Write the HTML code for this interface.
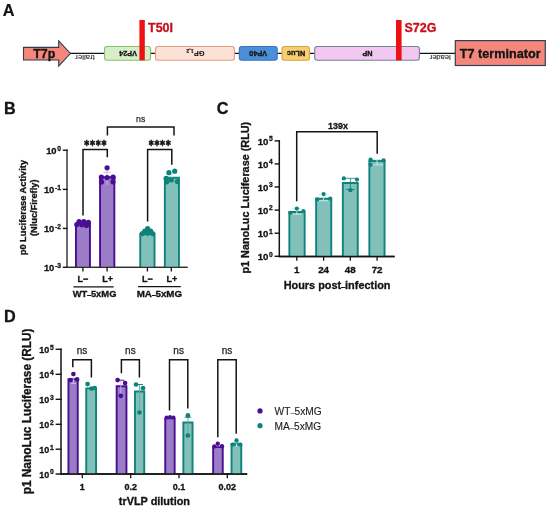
<!DOCTYPE html>
<html><head><meta charset="utf-8"><title>Figure</title>
<style>
html,body{margin:0;padding:0;background:#fff;}
body{width:550px;height:509px;overflow:hidden;}
svg{display:block;font-family:'Liberation Sans', Arial, sans-serif;}
</style></head>
<body>
<svg width="550" height="509" viewBox="0 0 550 509">
<rect width="550" height="509" fill="#fff"/>
<text x="2.7" y="15.9" font-size="16.3" font-weight="bold" text-anchor="start" fill="#141414" stroke="#141414" stroke-width="0.2" >A</text>
<line x1="66" y1="53.4" x2="456" y2="53.4" stroke="#141414" stroke-width="1.4"/>
<path d="M23.5,47.4 L58.7,47.4 L58.7,40.9 L70.4,53.5 L58.7,66.1 L58.7,60.0 L23.5,60.0 Z" stroke="#2d3e50" stroke-width="1.1" fill="#f4877c" />
<text x="44.3" y="57.6" font-size="12.4" font-weight="bold" text-anchor="middle" fill="#141414" stroke="#141414" stroke-width="0.32" >T7p</text>
<text transform="translate(85.0,55.0) rotate(180)" font-size="6.6" font-weight="normal" text-anchor="middle" fill="#333" stroke="#333" stroke-width="0.12" textLength="19.6" lengthAdjust="spacingAndGlyphs">trailer</text>
<text transform="translate(440.2,55.4) rotate(180)" font-size="6.6" font-weight="normal" text-anchor="middle" fill="#333" stroke="#333" stroke-width="0.15" textLength="21.2" lengthAdjust="spacingAndGlyphs">leader</text>
<rect x="104.5" y="46.5" width="46.0" height="13.7" rx="2.5" fill="#d6efca" stroke="#86c070" stroke-width="1.1"/>
<rect x="155.5" y="46.5" width="78.9" height="13.7" rx="2.5" fill="#fce1d6" stroke="#e69a7c" stroke-width="1.1"/>
<rect x="239.3" y="46.5" width="37.9" height="13.7" rx="2.5" fill="#4b8fd8" stroke="#3d74b6" stroke-width="1.1"/>
<rect x="282.0" y="46.5" width="27.5" height="13.7" rx="2.5" fill="#f7cf72" stroke="#d2a546" stroke-width="1.1"/>
<rect x="314.7" y="46.5" width="104.7" height="13.7" rx="2.5" fill="#f2c7f0" stroke="#76809a" stroke-width="1.1"/>
<text transform="translate(128.0,50.7) rotate(180)" font-size="7.3" font-weight="bold" text-anchor="middle" fill="#141414" stroke="#141414" stroke-width="0.32" >VP24</text>
<text transform="translate(195.4,51.1) rotate(180) scale(1.15,1)" font-size="6.3" font-weight="bold" text-anchor="middle" fill="#141414" stroke="#141414" stroke-width="0.12">GP<tspan font-size="4.6" dy="1.6" dx="0.2">1,2</tspan></text>
<text transform="translate(258.2,50.7) rotate(180)" font-size="7.3" font-weight="bold" text-anchor="middle" fill="#141414" stroke="#141414" stroke-width="0.32" >VP40</text>
<text transform="translate(296.0,50.7) rotate(180)" font-size="7.3" font-weight="bold" text-anchor="middle" fill="#141414" stroke="#141414" stroke-width="0.32" >NLuc</text>
<text transform="translate(367.5,50.9) rotate(180)" font-size="7.3" font-weight="bold" text-anchor="middle" fill="#141414" stroke="#141414" stroke-width="0.32" >NP</text>
<rect x="139.4" y="20" width="5.4" height="40.3" rx="0" fill="#ee1111" stroke="none" stroke-width="0"/>
<rect x="396.0" y="20" width="5.6" height="40.3" rx="0" fill="#ee1111" stroke="none" stroke-width="0"/>
<text x="148.0" y="32.2" font-size="12.5" font-weight="bold" text-anchor="start" fill="#c8101a" stroke="#c8101a" stroke-width="0.32" >T50I</text>
<text x="404.4" y="32.3" font-size="12.5" font-weight="bold" text-anchor="start" fill="#c8101a" stroke="#c8101a" stroke-width="0.32" >S72G</text>
<rect x="455.3" y="40.6" width="90.0" height="24.9" rx="0" fill="#f4877c" stroke="#2f4253" stroke-width="1.2"/>
<text x="500.25" y="57.5" font-size="12.65" font-weight="bold" text-anchor="middle" fill="#141414" stroke="#141414" stroke-width="0.32" >T7 terminator</text>
<text x="4.1" y="114.0" font-size="16.2" font-weight="bold" text-anchor="start" fill="#141414" stroke="#141414" stroke-width="0.3" >B</text>
<line x1="67" y1="149.4" x2="67" y2="268" stroke="#2e2e2e" stroke-width="1.4"/>
<line x1="66.3" y1="267.4" x2="187.6" y2="267.4" stroke="#2e2e2e" stroke-width="1.4"/>
<line x1="62.8" y1="150.2" x2="67.6" y2="150.2" stroke="#141414" stroke-width="1.4"/>
<text x="56.57" y="153.8" font-size="9.4" font-weight="bold" text-anchor="end" fill="#141414" stroke="#141414" stroke-width="0.32" >10</text>
<text x="57.27" y="150.5" font-size="6.7" font-weight="bold" text-anchor="start" fill="#141414" stroke="#141414" stroke-width="0.3" >0</text>
<line x1="62.8" y1="189.4" x2="67.6" y2="189.4" stroke="#141414" stroke-width="1.4"/>
<text x="54.34" y="193.0" font-size="9.4" font-weight="bold" text-anchor="end" fill="#141414" stroke="#141414" stroke-width="0.32" >10</text>
<text x="55.04" y="189.7" font-size="6.7" font-weight="bold" text-anchor="start" fill="#141414" stroke="#141414" stroke-width="0.3" >-1</text>
<line x1="62.8" y1="228.4" x2="67.6" y2="228.4" stroke="#141414" stroke-width="1.4"/>
<text x="54.34" y="232.0" font-size="9.4" font-weight="bold" text-anchor="end" fill="#141414" stroke="#141414" stroke-width="0.32" >10</text>
<text x="55.04" y="228.7" font-size="6.7" font-weight="bold" text-anchor="start" fill="#141414" stroke="#141414" stroke-width="0.3" >-2</text>
<line x1="62.8" y1="267.3" x2="67.6" y2="267.3" stroke="#141414" stroke-width="1.4"/>
<text x="54.34" y="270.9" font-size="9.4" font-weight="bold" text-anchor="end" fill="#141414" stroke="#141414" stroke-width="0.32" >10</text>
<text x="55.04" y="267.6" font-size="6.7" font-weight="bold" text-anchor="start" fill="#141414" stroke="#141414" stroke-width="0.3" >-3</text>
<path d="M75.95,267.3 L75.95,223.75 L89.95,223.75 L89.95,267.3" fill="#9a7dc6" stroke="#4a0e92" stroke-width="1.9"/>
<path d="M100.05,267.3 L100.05,177.25 L114.35,177.25 L114.35,267.3" fill="#9a7dc6" stroke="#4a0e92" stroke-width="1.9"/>
<path d="M140.25,267.3 L140.25,233.95 L154.55,233.95 L154.55,267.3" fill="#82c0ba" stroke="#0f827b" stroke-width="1.9"/>
<path d="M164.85,267.3 L164.85,177.75 L178.95,177.75 L178.95,267.3" fill="#82c0ba" stroke="#0f827b" stroke-width="1.9"/>
<line x1="66.3" y1="267.4" x2="187.6" y2="267.4" stroke="#2e2e2e" stroke-width="1.4"/>
<circle cx="79.1" cy="221.5" r="2.6" fill="#4a0e92"/>
<circle cx="83.8" cy="221.5" r="2.6" fill="#4a0e92"/>
<circle cx="88.4" cy="222.3" r="2.6" fill="#4a0e92"/>
<circle cx="76.8" cy="224.6" r="2.6" fill="#4a0e92"/>
<circle cx="81.8" cy="224.7" r="2.6" fill="#4a0e92"/>
<circle cx="86.5" cy="225.4" r="2.6" fill="#4a0e92"/>
<line x1="107.1" y1="171.5" x2="107.1" y2="185" stroke="#c4b4e2" stroke-width="1.0"/>
<line x1="103.5" y1="172.2" x2="110.7" y2="172.2" stroke="#c4b4e2" stroke-width="1.0"/>
<circle cx="107.1" cy="167.8" r="2.6" fill="#4a0e92"/>
<circle cx="101.4" cy="177.2" r="2.6" fill="#4a0e92"/>
<circle cx="107.1" cy="177.6" r="2.6" fill="#4a0e92"/>
<circle cx="113.1" cy="177.2" r="2.6" fill="#4a0e92"/>
<circle cx="101.5" cy="182" r="2.6" fill="#4a0e92"/>
<circle cx="113" cy="181.8" r="2.6" fill="#4a0e92"/>
<circle cx="147.6" cy="228.6" r="2.6" fill="#0f827b"/>
<circle cx="144.8" cy="231.0" r="2.6" fill="#0f827b"/>
<circle cx="150.6" cy="231.0" r="2.6" fill="#0f827b"/>
<circle cx="142.4" cy="233.6" r="2.6" fill="#0f827b"/>
<circle cx="147.6" cy="233.2" r="2.6" fill="#0f827b"/>
<circle cx="152.6" cy="233.6" r="2.6" fill="#0f827b"/>
<line x1="171.8" y1="173" x2="171.8" y2="183" stroke="#b8e0dc" stroke-width="1.0"/>
<circle cx="168.9" cy="172.7" r="2.6" fill="#0f827b"/>
<circle cx="174.7" cy="171.2" r="2.6" fill="#0f827b"/>
<circle cx="166.2" cy="178.4" r="2.6" fill="#0f827b"/>
<circle cx="177.4" cy="181.6" r="2.6" fill="#0f827b"/>
<circle cx="171.3" cy="180.0" r="2.6" fill="#0f827b"/>
<circle cx="166.6" cy="181.8" r="2.6" fill="#0f827b"/>
<line x1="82.9" y1="267.3" x2="82.9" y2="271.5" stroke="#141414" stroke-width="1.3"/>
<line x1="107.1" y1="267.3" x2="107.1" y2="271.5" stroke="#141414" stroke-width="1.3"/>
<line x1="147.4" y1="267.3" x2="147.4" y2="271.5" stroke="#141414" stroke-width="1.3"/>
<line x1="171.3" y1="267.3" x2="171.3" y2="271.5" stroke="#141414" stroke-width="1.3"/>
<text x="83.0" y="282.2" font-size="9" font-weight="bold" text-anchor="middle" fill="#141414" stroke="#141414" stroke-width="0.32" >L−</text>
<text x="107.6" y="282.2" font-size="9" font-weight="bold" text-anchor="middle" fill="#141414" stroke="#141414" stroke-width="0.32" >L+</text>
<text x="147.4" y="282.2" font-size="9" font-weight="bold" text-anchor="middle" fill="#141414" stroke="#141414" stroke-width="0.32" >L−</text>
<text x="171.9" y="282.2" font-size="9" font-weight="bold" text-anchor="middle" fill="#141414" stroke="#141414" stroke-width="0.32" >L+</text>
<line x1="73.4" y1="286.8" x2="113.7" y2="286.8" stroke="#141414" stroke-width="1.3"/>
<line x1="138.0" y1="286.7" x2="180.8" y2="286.7" stroke="#141414" stroke-width="1.3"/>
<text x="94.6" y="297.0" font-size="9.4" font-weight="bold" text-anchor="middle" fill="#141414" stroke="#141414" stroke-width="0.32" >WT<tspan font-size="6.4" font-weight="normal" stroke-width="0.35">–</tspan>5xMG</text>
<text x="159.4" y="297.0" font-size="9.75" font-weight="bold" text-anchor="middle" fill="#141414" stroke="#141414" stroke-width="0.32" >MA<tspan font-size="6.4" font-weight="normal" stroke-width="0.35">–</tspan>5xMG</text>
<path d="M83,215.6 L83,149.4 L107.3,149.4 L107.3,157.2" stroke="#141414" stroke-width="1.5" fill="none" />
<path d="M147.6,221.4 L147.6,149.4 L171.8,149.4 L171.8,164.8" stroke="#141414" stroke-width="1.5" fill="none" />
<path d="M107.4,135.6 L107.4,127 L174,127 L174,135.6" stroke="#141414" stroke-width="1.5" fill="none" />
<text transform="matrix(1,0,0,1.3,0,148.87)" x="84.14 89.95 95.76 101.57" y="0" font-family="DejaVu Sans, sans-serif" font-size="9.4" font-weight="bold" fill="#141414" stroke="#141414" stroke-width="0.55">****</text>
<text transform="matrix(1,0,0,1.3,0,148.87)" x="148.74 154.41 160.09 165.77" y="0" font-family="DejaVu Sans, sans-serif" font-size="9.4" font-weight="bold" fill="#141414" stroke="#141414" stroke-width="0.55">****</text>
<text x="140.7" y="121.7" font-size="8.7" font-weight="normal" text-anchor="middle" fill="#2a2a2a" stroke="#2a2a2a" stroke-width="0.25" >ns</text>
<text transform="translate(25.5,207.6) rotate(-90)" font-size="9.26" font-weight="bold" text-anchor="middle" fill="#141414" stroke="#141414" stroke-width="0.32" >p0 Luciferase Activity</text>
<text transform="translate(36.5,207.8) rotate(-90)" font-size="9.25" font-weight="bold" text-anchor="middle" fill="#141414" stroke="#141414" stroke-width="0.32" >(Nluc/Firefly)</text>
<text x="216.8" y="114.0" font-size="16.2" font-weight="bold" text-anchor="start" fill="#141414" stroke="#141414" stroke-width="0.3" >C</text>
<line x1="279.3" y1="140.2" x2="279.3" y2="257" stroke="#141414" stroke-width="1.5"/>
<line x1="278.6" y1="256.4" x2="394.6" y2="256.4" stroke="#141414" stroke-width="1.5"/>
<line x1="274.6" y1="140.9" x2="280" y2="140.9" stroke="#141414" stroke-width="1.4"/>
<text x="268.37" y="144.5" font-size="9.6" font-weight="bold" text-anchor="end" fill="#141414" stroke="#141414" stroke-width="0.32" >10</text>
<text x="269.07" y="141.2" font-size="6.7" font-weight="bold" text-anchor="start" fill="#141414" stroke="#141414" stroke-width="0.3" >5</text>
<line x1="274.6" y1="163.9" x2="280" y2="163.9" stroke="#141414" stroke-width="1.4"/>
<text x="268.37" y="167.5" font-size="9.6" font-weight="bold" text-anchor="end" fill="#141414" stroke="#141414" stroke-width="0.32" >10</text>
<text x="269.07" y="164.2" font-size="6.7" font-weight="bold" text-anchor="start" fill="#141414" stroke="#141414" stroke-width="0.3" >4</text>
<line x1="274.6" y1="187.0" x2="280" y2="187.0" stroke="#141414" stroke-width="1.4"/>
<text x="268.37" y="190.6" font-size="9.6" font-weight="bold" text-anchor="end" fill="#141414" stroke="#141414" stroke-width="0.32" >10</text>
<text x="269.07" y="187.3" font-size="6.7" font-weight="bold" text-anchor="start" fill="#141414" stroke="#141414" stroke-width="0.3" >3</text>
<line x1="274.6" y1="210.1" x2="280" y2="210.1" stroke="#141414" stroke-width="1.4"/>
<text x="268.37" y="213.7" font-size="9.6" font-weight="bold" text-anchor="end" fill="#141414" stroke="#141414" stroke-width="0.32" >10</text>
<text x="269.07" y="210.4" font-size="6.7" font-weight="bold" text-anchor="start" fill="#141414" stroke="#141414" stroke-width="0.3" >2</text>
<line x1="274.6" y1="233.2" x2="280" y2="233.2" stroke="#141414" stroke-width="1.4"/>
<text x="268.37" y="236.8" font-size="9.6" font-weight="bold" text-anchor="end" fill="#141414" stroke="#141414" stroke-width="0.32" >10</text>
<text x="269.07" y="233.5" font-size="6.7" font-weight="bold" text-anchor="start" fill="#141414" stroke="#141414" stroke-width="0.3" >1</text>
<line x1="274.6" y1="256.3" x2="280" y2="256.3" stroke="#141414" stroke-width="1.4"/>
<text x="268.37" y="259.9" font-size="9.6" font-weight="bold" text-anchor="end" fill="#141414" stroke="#141414" stroke-width="0.32" >10</text>
<text x="269.07" y="256.6" font-size="6.7" font-weight="bold" text-anchor="start" fill="#141414" stroke="#141414" stroke-width="0.3" >0</text>
<path d="M289.35,256.4 L289.35,212.05 L304.65,212.05 L304.65,256.4" fill="#82c0ba" stroke="#0f827b" stroke-width="1.9"/>
<path d="M316.15,256.4 L316.15,198.75 L331.25,198.75 L331.25,256.4" fill="#82c0ba" stroke="#0f827b" stroke-width="1.9"/>
<path d="M342.85,256.4 L342.85,182.95 L357.75,182.95 L357.75,256.4" fill="#82c0ba" stroke="#0f827b" stroke-width="1.9"/>
<path d="M369.35,256.4 L369.35,160.95 L384.55,160.95 L384.55,256.4" fill="#82c0ba" stroke="#0f827b" stroke-width="1.9"/>
<line x1="278.6" y1="256.4" x2="394.6" y2="256.4" stroke="#141414" stroke-width="1.5"/>
<line x1="292.5" y1="208.6" x2="301.1" y2="208.6" stroke="#cfe9e6" stroke-width="0.9"/>
<line x1="296.8" y1="208.6" x2="296.8" y2="214.5" stroke="#cfe9e6" stroke-width="0.9"/>
<line x1="292.5" y1="214.2" x2="301.1" y2="214.2" stroke="#cfe9e6" stroke-width="0.9"/>
<circle cx="296.8" cy="208.6" r="2.1" fill="#0f827b"/>
<circle cx="303.4" cy="211.0" r="2.1" fill="#0f827b"/>
<circle cx="290.4" cy="212.8" r="2.1" fill="#0f827b"/>
<line x1="319.0" y1="194.4" x2="328.2" y2="194.4" stroke="#cfe9e6" stroke-width="0.9"/>
<line x1="323.6" y1="194.4" x2="323.6" y2="201" stroke="#cfe9e6" stroke-width="0.9"/>
<line x1="319.0" y1="200.7" x2="328.2" y2="200.7" stroke="#cfe9e6" stroke-width="0.9"/>
<circle cx="323.6" cy="194.1" r="2.1" fill="#0f827b"/>
<circle cx="330.2" cy="198.6" r="2.1" fill="#0f827b"/>
<circle cx="317.2" cy="199.4" r="2.1" fill="#0f827b"/>
<line x1="343.5" y1="178.3" x2="357.3" y2="178.3" stroke="#0f827b" stroke-width="0.8"/>
<line x1="350.4" y1="178.3" x2="350.4" y2="190" stroke="#0f827b" stroke-width="0.8"/>
<line x1="346" y1="189.5" x2="355" y2="189.5" stroke="#0f827b" stroke-width="0.8"/>
<circle cx="343.8" cy="178.4" r="2.1" fill="#0f827b"/>
<circle cx="357.0" cy="179.6" r="2.1" fill="#0f827b"/>
<circle cx="350.4" cy="190.2" r="2.1" fill="#0f827b"/>
<line x1="371" y1="159.6" x2="383" y2="159.6" stroke="#cfe9e6" stroke-width="0.9"/>
<line x1="377" y1="159.6" x2="377" y2="165" stroke="#cfe9e6" stroke-width="0.9"/>
<line x1="371" y1="164.8" x2="383" y2="164.8" stroke="#cfe9e6" stroke-width="0.9"/>
<circle cx="370.6" cy="159.6" r="2.1" fill="#0f827b"/>
<circle cx="383.6" cy="160.3" r="2.1" fill="#0f827b"/>
<circle cx="370.6" cy="164.8" r="2.1" fill="#0f827b"/>
<line x1="296.8" y1="256.4" x2="296.8" y2="260.8" stroke="#141414" stroke-width="1.3"/>
<line x1="323.6" y1="256.4" x2="323.6" y2="260.8" stroke="#141414" stroke-width="1.3"/>
<line x1="350.3" y1="256.4" x2="350.3" y2="260.8" stroke="#141414" stroke-width="1.3"/>
<line x1="377.1" y1="256.4" x2="377.1" y2="260.8" stroke="#141414" stroke-width="1.3"/>
<text x="296.8" y="273.2" font-size="9.8" font-weight="bold" text-anchor="middle" fill="#141414" stroke="#141414" stroke-width="0.32" >1</text>
<text x="323.6" y="273.2" font-size="9.8" font-weight="bold" text-anchor="middle" fill="#141414" stroke="#141414" stroke-width="0.32" >24</text>
<text x="350.3" y="273.2" font-size="9.8" font-weight="bold" text-anchor="middle" fill="#141414" stroke="#141414" stroke-width="0.32" >48</text>
<text x="377.1" y="273.2" font-size="9.8" font-weight="bold" text-anchor="middle" fill="#141414" stroke="#141414" stroke-width="0.32" >72</text>
<text x="337.1" y="288.6" font-size="10.9" font-weight="bold" text-anchor="middle" fill="#141414" stroke="#141414" stroke-width="0.32" >Hours post<tspan font-size="7" font-weight="normal" stroke-width="0.35">–</tspan>infection</text>
<path d="M296.7,201.2 L296.7,131.8 L377.2,131.8 L377.2,153.8" stroke="#141414" stroke-width="1.5" fill="none" />
<text x="338.0" y="129.2" font-size="9" font-weight="bold" text-anchor="middle" fill="#141414" stroke="#141414" stroke-width="0.32" >139x</text>
<text transform="translate(248.6,197.7) rotate(-90)" font-size="10.85" font-weight="bold" text-anchor="middle" fill="#141414" stroke="#141414" stroke-width="0.32" >p1 NanoLuc Luciferase (RLU)</text>
<text x="4.1" y="322.4" font-size="16.2" font-weight="bold" text-anchor="start" fill="#141414" stroke="#141414" stroke-width="0.3" >D</text>
<line x1="61.0" y1="348.6" x2="61.0" y2="474.6" stroke="#141414" stroke-width="1.5"/>
<line x1="60.3" y1="474.0" x2="247.2" y2="474.0" stroke="#141414" stroke-width="1.5"/>
<line x1="55.6" y1="349.3" x2="61.6" y2="349.3" stroke="#141414" stroke-width="1.4"/>
<text x="49.37" y="352.9" font-size="9.0" font-weight="bold" text-anchor="end" fill="#141414" stroke="#141414" stroke-width="0.32" >10</text>
<text x="50.07" y="349.6" font-size="6.7" font-weight="bold" text-anchor="start" fill="#141414" stroke="#141414" stroke-width="0.3" >5</text>
<line x1="55.6" y1="374.3" x2="61.6" y2="374.3" stroke="#141414" stroke-width="1.4"/>
<text x="49.37" y="377.9" font-size="9.0" font-weight="bold" text-anchor="end" fill="#141414" stroke="#141414" stroke-width="0.32" >10</text>
<text x="50.07" y="374.6" font-size="6.7" font-weight="bold" text-anchor="start" fill="#141414" stroke="#141414" stroke-width="0.3" >4</text>
<line x1="55.6" y1="399.3" x2="61.6" y2="399.3" stroke="#141414" stroke-width="1.4"/>
<text x="49.37" y="402.9" font-size="9.0" font-weight="bold" text-anchor="end" fill="#141414" stroke="#141414" stroke-width="0.32" >10</text>
<text x="50.07" y="399.6" font-size="6.7" font-weight="bold" text-anchor="start" fill="#141414" stroke="#141414" stroke-width="0.3" >3</text>
<line x1="55.6" y1="424.3" x2="61.6" y2="424.3" stroke="#141414" stroke-width="1.4"/>
<text x="49.37" y="427.9" font-size="9.0" font-weight="bold" text-anchor="end" fill="#141414" stroke="#141414" stroke-width="0.32" >10</text>
<text x="50.07" y="424.6" font-size="6.7" font-weight="bold" text-anchor="start" fill="#141414" stroke="#141414" stroke-width="0.3" >2</text>
<line x1="55.6" y1="449.2" x2="61.6" y2="449.2" stroke="#141414" stroke-width="1.4"/>
<text x="49.37" y="452.8" font-size="9.0" font-weight="bold" text-anchor="end" fill="#141414" stroke="#141414" stroke-width="0.32" >10</text>
<text x="50.07" y="449.5" font-size="6.7" font-weight="bold" text-anchor="start" fill="#141414" stroke="#141414" stroke-width="0.3" >1</text>
<line x1="55.6" y1="474.0" x2="61.6" y2="474.0" stroke="#141414" stroke-width="1.4"/>
<text x="49.37" y="477.6" font-size="9.0" font-weight="bold" text-anchor="end" fill="#141414" stroke="#141414" stroke-width="0.32" >10</text>
<text x="50.07" y="474.3" font-size="6.7" font-weight="bold" text-anchor="start" fill="#141414" stroke="#141414" stroke-width="0.3" >0</text>
<path d="M68.45,474 L68.45,379.25 L77.75,379.25 L77.75,474" fill="#9a7dc6" stroke="#4a0e92" stroke-width="1.9"/>
<path d="M86.25,474 L86.25,388.35 L96.05,388.35 L96.05,474" fill="#82c0ba" stroke="#0f827b" stroke-width="1.9"/>
<path d="M116.65,474 L116.65,386.25 L126.45,386.25 L126.45,474" fill="#9a7dc6" stroke="#4a0e92" stroke-width="1.9"/>
<path d="M134.95,474 L134.95,391.45 L144.25,391.45 L144.25,474" fill="#82c0ba" stroke="#0f827b" stroke-width="1.9"/>
<path d="M165.25,474 L165.25,418.35 L174.65,418.35 L174.65,474" fill="#9a7dc6" stroke="#4a0e92" stroke-width="1.9"/>
<path d="M183.35,474 L183.35,422.55 L192.55,422.55 L192.55,474" fill="#82c0ba" stroke="#0f827b" stroke-width="1.9"/>
<path d="M213.15,474 L213.15,447.15 L222.75,447.15 L222.75,474" fill="#9a7dc6" stroke="#4a0e92" stroke-width="1.9"/>
<path d="M231.55,474 L231.55,444.55 L241.25,444.55 L241.25,474" fill="#82c0ba" stroke="#0f827b" stroke-width="1.9"/>
<line x1="60.3" y1="474.0" x2="247.2" y2="474.0" stroke="#141414" stroke-width="1.5"/>
<line x1="73.4" y1="376" x2="73.4" y2="384" stroke="#c8b8e6" stroke-width="0.9"/>
<line x1="71" y1="383.5" x2="76" y2="383.5" stroke="#c8b8e6" stroke-width="0.9"/>
<circle cx="73.4" cy="374.0" r="2.35" fill="#4a0e92"/>
<circle cx="77.1" cy="379.4" r="2.35" fill="#4a0e92"/>
<circle cx="70.4" cy="380.0" r="2.35" fill="#4a0e92"/>
<circle cx="87.6" cy="384.1" r="2.35" fill="#0f827b"/>
<circle cx="94.6" cy="388.0" r="2.35" fill="#0f827b"/>
<circle cx="91.4" cy="388.6" r="2.35" fill="#0f827b"/>
<line x1="120.8" y1="380" x2="120.8" y2="394" stroke="#c8b8e6" stroke-width="0.9"/>
<line x1="117.6" y1="380.2" x2="124.5" y2="380.2" stroke="#4a0e92" stroke-width="0.9"/>
<circle cx="117.6" cy="380.1" r="2.35" fill="#4a0e92"/>
<circle cx="125.1" cy="383.1" r="2.35" fill="#4a0e92"/>
<circle cx="120.8" cy="395.8" r="2.35" fill="#4a0e92"/>
<line x1="139.5" y1="384.5" x2="139.5" y2="412" stroke="#5fa9a2" stroke-width="0.9"/>
<line x1="136" y1="384.5" x2="143" y2="384.5" stroke="#0f827b" stroke-width="0.9"/>
<circle cx="136.0" cy="384.5" r="2.35" fill="#0f827b"/>
<circle cx="143.0" cy="388.2" r="2.35" fill="#0f827b"/>
<circle cx="139.5" cy="412.5" r="2.35" fill="#0f827b"/>
<circle cx="166.6" cy="417.6" r="2.0" fill="#4a0e92"/>
<circle cx="170" cy="417.0" r="2.0" fill="#4a0e92"/>
<circle cx="173.4" cy="417.6" r="2.0" fill="#4a0e92"/>
<line x1="187.9" y1="415.5" x2="187.9" y2="435" stroke="#5fa9a2" stroke-width="0.9"/>
<line x1="184.6" y1="417.2" x2="191.2" y2="417.2" stroke="#0f827b" stroke-width="1.0"/>
<circle cx="187.9" cy="415.4" r="2.35" fill="#0f827b"/>
<circle cx="187.9" cy="435.5" r="2.35" fill="#0f827b"/>
<circle cx="214.3" cy="446.4" r="2.2" fill="#4a0e92"/>
<circle cx="217.8" cy="443.7" r="2.2" fill="#4a0e92"/>
<circle cx="222.0" cy="446.3" r="2.2" fill="#4a0e92"/>
<line x1="236.5" y1="440.4" x2="236.5" y2="447" stroke="#cfe9e6" stroke-width="0.9"/>
<line x1="232.5" y1="443.2" x2="240.5" y2="443.2" stroke="#0f827b" stroke-width="1.0"/>
<circle cx="236.5" cy="440.4" r="2.2" fill="#0f827b"/>
<circle cx="232.6" cy="444.6" r="2.2" fill="#0f827b"/>
<circle cx="240.3" cy="444.6" r="2.2" fill="#0f827b"/>
<path d="M72.8,367.2 L72.8,359.8 L91.4,359.8 L91.4,377.4" stroke="#141414" stroke-width="1.5" fill="none" />
<text x="82.1" y="353.6" font-size="10" font-weight="normal" text-anchor="middle" fill="#1e1e1e" stroke="#1e1e1e" stroke-width="0.25" >ns</text>
<path d="M121.4,373.3 L121.4,359.8 L139.4,359.8 L139.4,377.4" stroke="#141414" stroke-width="1.5" fill="none" />
<text x="130.4" y="353.6" font-size="10" font-weight="normal" text-anchor="middle" fill="#1e1e1e" stroke="#1e1e1e" stroke-width="0.25" >ns</text>
<path d="M169.5,410.5 L169.5,359.8 L187.8,359.8 L187.8,408.6" stroke="#141414" stroke-width="1.5" fill="none" />
<text x="178.65" y="353.6" font-size="10" font-weight="normal" text-anchor="middle" fill="#1e1e1e" stroke="#1e1e1e" stroke-width="0.25" >ns</text>
<path d="M217.8,437.3 L217.8,359.8 L236.2,359.8 L236.2,433.7" stroke="#141414" stroke-width="1.5" fill="none" />
<text x="227.0" y="353.6" font-size="10" font-weight="normal" text-anchor="middle" fill="#1e1e1e" stroke="#1e1e1e" stroke-width="0.25" >ns</text>
<line x1="82.3" y1="474" x2="82.3" y2="478.3" stroke="#141414" stroke-width="1.3"/>
<line x1="130.7" y1="474" x2="130.7" y2="478.3" stroke="#141414" stroke-width="1.3"/>
<line x1="179.0" y1="474" x2="179.0" y2="478.3" stroke="#141414" stroke-width="1.3"/>
<line x1="227.3" y1="474" x2="227.3" y2="478.3" stroke="#141414" stroke-width="1.3"/>
<text x="82.3" y="490.2" font-size="9" font-weight="bold" text-anchor="middle" fill="#141414" stroke="#141414" stroke-width="0.32" >1</text>
<text x="130.7" y="490.2" font-size="9" font-weight="bold" text-anchor="middle" fill="#141414" stroke="#141414" stroke-width="0.32" >0.2</text>
<text x="179.0" y="490.2" font-size="9" font-weight="bold" text-anchor="middle" fill="#141414" stroke="#141414" stroke-width="0.32" >0.1</text>
<text x="227.3" y="490.2" font-size="9" font-weight="bold" text-anchor="middle" fill="#141414" stroke="#141414" stroke-width="0.32" >0.02</text>
<text x="154.4" y="504.6" font-size="10.9" font-weight="bold" text-anchor="middle" fill="#141414" stroke="#141414" stroke-width="0.32" >trVLP dilution</text>
<text transform="translate(31.0,411.4) rotate(-90)" font-size="11.85" font-weight="bold" text-anchor="middle" fill="#141414" stroke="#141414" stroke-width="0.32" >p1 NanoLuc Luciferase (RLU)</text>
<circle cx="260" cy="410.9" r="2.6" fill="#4a0e92"/>
<circle cx="260" cy="425.7" r="2.6" fill="#0f827b"/>
<text x="274.6" y="414.6" font-size="10.2" font-weight="normal" text-anchor="start" fill="#222" stroke="#222" stroke-width="0.12" >WT<tspan font-size="7.5">–</tspan>5xMG</text>
<text x="274.6" y="429.5" font-size="10.2" font-weight="normal" text-anchor="start" fill="#222" stroke="#222" stroke-width="0.12" >MA<tspan font-size="7.5">–</tspan>5xMG</text>
</svg>
</body></html>
